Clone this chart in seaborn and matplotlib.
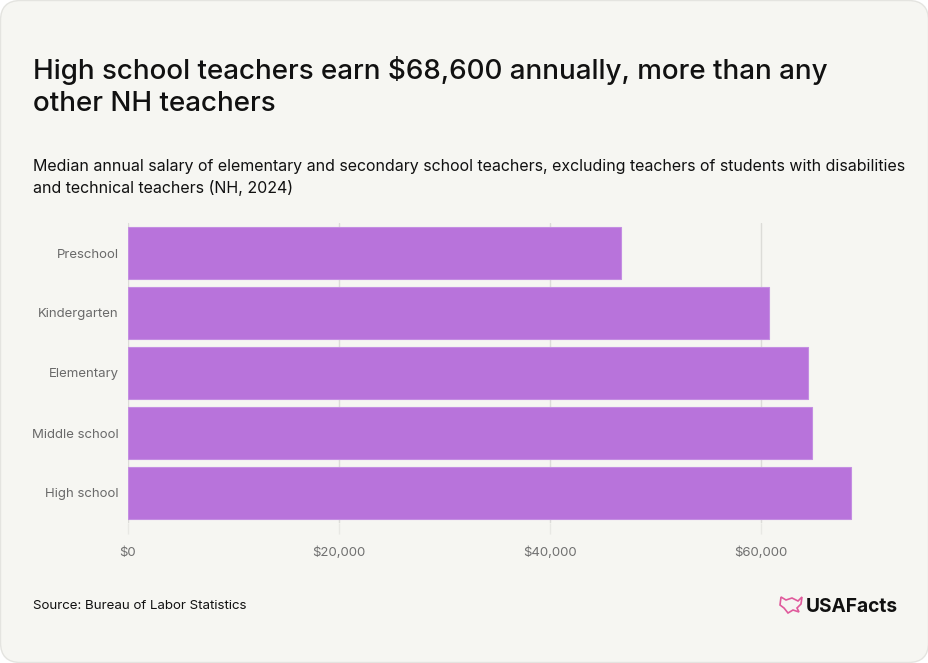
import matplotlib
matplotlib.use("Agg")
import matplotlib.pyplot as plt
import seaborn as sns
import pandas as pd
from matplotlib.patches import FancyBboxPatch, Polygon
from matplotlib.ticker import FuncFormatter

categories = ["Preschool", "Kindergarten", "Elementary", "Middle school", "High school"]
salaries = [46800, 60800, 64500, 64900, 68600]
x_ticks = [0, 20000, 40000, 60000]

title = "High school teachers earn $68,600 annually, more than any\nother NH teachers"
subtitle = ("Median annual salary of elementary and secondary school teachers, excluding teachers of students with disabilities\n"
            "and technical teachers (NH, 2024)")
source = "Source: Bureau of Labor Statistics"

df = pd.DataFrame({"category": categories, "salary": salaries})

sns.set_theme(style="white")
plt.rcParams["font.family"] = ["Inter", "DejaVu Sans"]

W, H = 929, 663
fig = plt.figure(figsize=(W / 100, H / 100), dpi=100)
fig.patch.set_facecolor("white")

BG = "#f6f6f2"
card = FancyBboxPatch((0.005, 0.005), W / 100 - 0.01, H / 100 - 0.01,
                      boxstyle="round,pad=0,rounding_size=0.2",
                      transform=fig.dpi_scale_trans, facecolor=BG,
                      edgecolor="#e4e4e0", linewidth=1.0, zorder=-10)
fig.add_artist(card)

def px(x, y):
    return x / W, 1 - y / H

ax_left, ax_top, ax_right, ax_bottom = 128, 223, 887, 523
ax = fig.add_axes([ax_left / W, 1 - ax_bottom / H, (ax_right - ax_left) / W, (ax_bottom - ax_top) / H])
ax.set_facecolor("none")

sns.barplot(data=df, x="salary", y="category", orient="h", color="#b873db",
            saturation=1, width=0.867, edgecolor="#c48ee2", linewidth=0.8, ax=ax, zorder=3)

ax.set_xlim(0, 72000)
ax.set_ylim(4.5, -0.5)
ax.set_xticks(x_ticks)
ax.xaxis.set_major_formatter(FuncFormatter(lambda v, p: f"${v:,.0f}"))
for v in x_ticks:
    ax.axvline(v, color="#dcdcd8", linewidth=1.0, zorder=1)
for s in ax.spines.values():
    s.set_visible(False)
ax.set_xlabel("")
ax.set_ylabel("")
ax.tick_params(axis="x", length=8, width=1, color="#e8e8e4", pad=9,
               labelsize=9.5, labelcolor="#707070", bottom=True)
ax.tick_params(axis="y", length=0, pad=6.5, labelsize=9.5, labelcolor="#6a6a6a")

fig.text(*px(33, 111), title, fontsize=20, color="#111111", ha="left", va="baseline",
         linespacing=1.3, fontweight="medium")
fig.text(*px(33, 193), subtitle, fontsize=11.5, color="#111111", ha="left", va="baseline",
         linespacing=1.5)
fig.text(*px(33, 609), source, fontsize=9.6, color="#111111", ha="left", va="baseline")

# logo
fig.text(*px(806, 612), "USAFacts", fontsize=13.8, color="#111111", ha="left",
         va="baseline", fontweight="bold")
icon = [(781, 597), (786, 600), (792, 598), (798, 601), (802, 597), (801, 604),
        (797, 608), (799, 612), (793, 610), (788, 613), (784, 608), (780, 605)]
fig.add_artist(Polygon([px(x, y) for x, y in icon], closed=True, transform=fig.transFigure,
                       facecolor="none", edgecolor="#e05a9c", linewidth=1.2))

fig.savefig("out.png", dpi=100, facecolor="white")
